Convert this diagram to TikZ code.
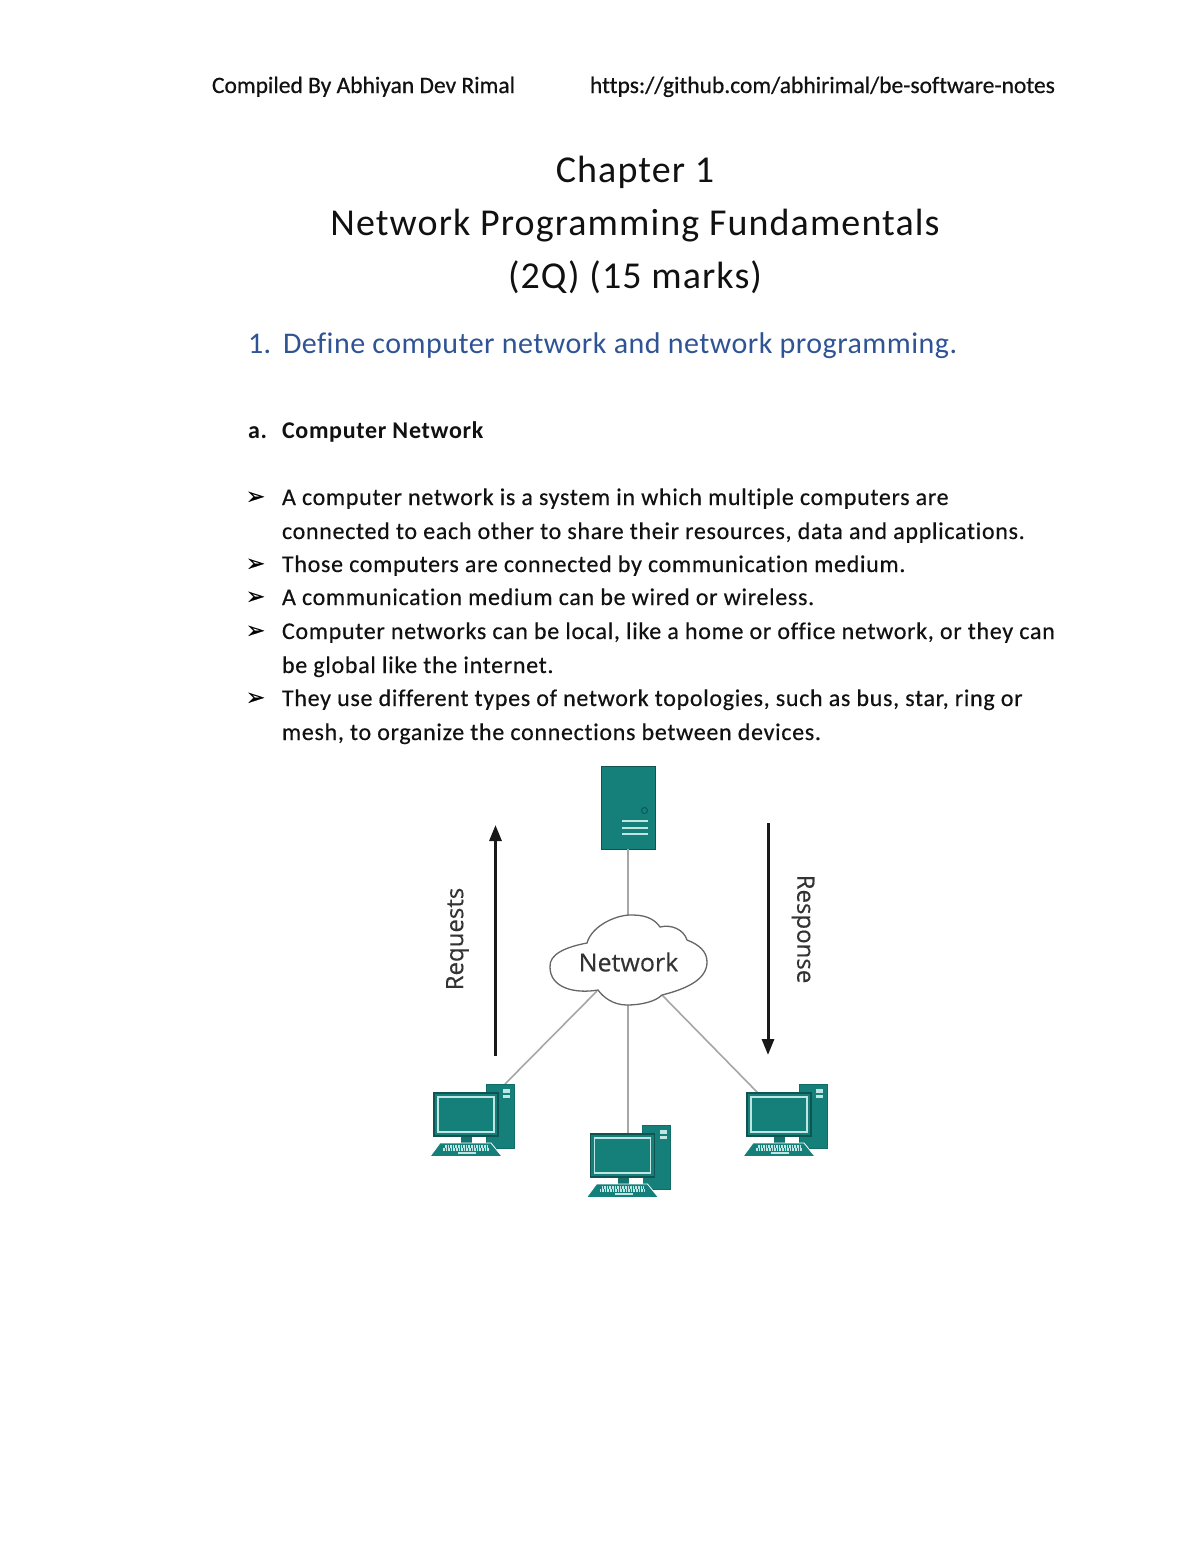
\documentclass[tikz,border=0pt]{standalone}
\usepackage{fontspec}
\usetikzlibrary{arrows.meta}
\setmainfont{Carlito}
\newfontfamily\bodyfont[LetterSpace=2.9,Ligatures=NoCommon,FakeBold=0.4]{Carlito}
\newfontfamily\pagehead[Ligatures=NoCommon,FakeBold=0.6]{Carlito}
\newfontfamily\boldfont[LetterSpace=2.9,Ligatures=NoCommon]{Carlito Bold}
\newfontfamily\titlefont[LetterSpace=2.9,Ligatures=NoCommon]{Carlito}
\newfontfamily\headfont[LetterSpace=1.6,Ligatures=NoCommon]{Carlito}
\newfontfamily\figfont[FakeBold=0.3]{Open Sans}
\newfontfamily\symfont[FakeBold=0.5]{DejaVu Sans}
\definecolor{teal1}{HTML}{15807A}
\definecolor{tealedge}{HTML}{0F5452}
\definecolor{keylight}{HTML}{BFE6E2}
\definecolor{wire}{HTML}{A6A6A6}
\definecolor{headblue}{HTML}{2F5496}
\definecolor{txt}{HTML}{111111}
\tikzset{
  x=1pt,y=-1pt,
  lefttext/.style={anchor=base west,inner sep=0pt,outer sep=0pt,text=txt,font=\bodyfont\fontsize{24}{28}\selectfont},
  pagetop/.style={anchor=base west,inner sep=0pt,outer sep=0pt,text=txt,font=\pagehead\fontsize{23.5}{28}\selectfont},
  centertext/.style={anchor=base,inner sep=0pt,outer sep=0pt,text=txt,font=\titlefont\fontsize{38}{46}\selectfont},
  headtext/.style={anchor=base west,inner sep=0pt,outer sep=0pt,text=headblue,font=\headfont\fontsize{30}{36}\selectfont},
  boldtext/.style={anchor=base west,inner sep=0pt,outer sep=0pt,text=txt,font=\boldfont\fontsize{24}{28}\selectfont},
  bulletmark/.style={anchor=base west,inner sep=0pt,outer sep=0pt,text=black,font=\symfont\fontsize{23}{26}\selectfont},
  figlabel/.style={inner sep=0pt,outer sep=0pt,text=black!80,font=\figfont\fontsize{24}{28}\selectfont},
  wireline/.style={draw=wire,line width=1.6pt},
  flowarrow/.style={draw=black!90,line width=3pt,-{Triangle[length=16pt,width=12pt]}},
  pc/.pic={
    \fill[teal1,draw=teal1!85!black,line width=.6pt] (52,-9) rectangle (80,55);
    \fill[white] (38,44) rectangle (52,50);
    \fill[keylight] (69,-4) rectangle (76,-.5);
    \fill[keylight] (69,1.5) rectangle (76,5);
    \fill[teal1!90!black] (27,43) rectangle (38,51);
    \draw[fill=teal1,draw=tealedge,line width=1.4pt] (0,0) rectangle (64,43);
    \draw[keylight,line width=1.3pt] (4,4) rectangle (60,39);
    \path[fill=teal1,draw=white,line width=.8pt] (6,50) -- (57,50) -- (68,63.5) -- (-4,63.5) -- cycle;
    \draw[keylight,line width=2.8pt,dash pattern=on 1.6pt off 1pt] (11,53.5) -- (53,53.5);
    \draw[keylight,line width=2.8pt,dash pattern=on 1.6pt off 1pt] (9,56.8) -- (55,56.8);
    \draw[keylight,line width=2.2pt] (24,60.2) -- (42,60.2);
  }
}
\begin{document}
\begin{tikzpicture}
\useasboundingbox (0,0) rectangle (1200,1553);
\fill[white] (0,0) rectangle (1200,1553);
% header
\node[pagetop] (hl) at (212,93) {Compiled By Abhiyan Dev Rimal};
\node[pagetop] (hr) at (590,93) {https://github.com/abhirimal/be-software-notes};
% titles
\node[centertext] (t1) at (635,182) {Chapter 1};
\node[centertext] (t2) at (635,235) {Network Programming Fundamentals};
\node[centertext] (t3) at (635,288) {(2Q) (15 marks)};
\node[headtext] (qn) at (248,353) {1.};
\node[headtext] (qt) at (283,353) {Define computer network and network programming.};
\node[boldtext] (an) at (248,438) {a.};
\node[boldtext] (at) at (282,438) {Computer Network};
% bullets
\node[bulletmark] (b1) at (246,504) {➢};
\node[bulletmark] (b2) at (246,571) {➢};
\node[bulletmark] (b3) at (246,604) {➢};
\node[bulletmark] (b4) at (246,638) {➢};
\node[bulletmark] (b5) at (246,705) {➢};
\node[lefttext] (l1) at (282,505) {A computer network is a system in which multiple computers are};
\node[lefttext] (l2) at (282,539) {connected to each other to share their resources, data and applications.};
\node[lefttext] (l3) at (282,572) {Those computers are connected by communication medium.};
\node[lefttext] (l4) at (282,605) {A communication medium can be wired or wireless.};
\node[lefttext] (l5) at (282,639) {Computer networks can be local, like a home or office network, or they can};
\node[lefttext] (l6) at (282,673) {be global like the internet.};
\node[lefttext] (l7) at (282,706) {They use different types of network topologies, such as bus, star, ring or};
\node[lefttext] (l8) at (282,740) {mesh, to organize the connections between devices.};
% anchors for the cloud ends
\coordinate (cloudtop) at (628,916);
\coordinate (cloudsw) at (597,991);
\coordinate (cloudbot) at (628,1005);
\coordinate (cloudse) at (662,995);
\coordinate (pcaport) at (505,1084);
\coordinate (pcbport) at (628,1134);
\coordinate (pccport) at (758,1093);
% connectors
\node[fill=teal1,draw=tealedge,line width=.9pt,minimum width=54pt,minimum height=83pt,inner sep=0pt] (server) at (628,807.5) {};
\draw[wireline] (server.south) -- (cloudtop);
\draw[wireline] (cloudsw) -- (pcaport);
\draw[wireline] (cloudbot) -- (pcbport);
\draw[wireline] (cloudse) -- (pccport);
% server details
\draw[tealedge,line width=.9pt] (644.5,810.5) circle (3);
\foreach \yy in {821,828,834} \draw[keylight,line width=2pt] (622,\yy) -- (648,\yy);
% cloud
\path[fill=white,draw=black!60,line width=1.3pt]
 (550,967) .. controls (549,954) and (566,947) .. (587,943)
 .. controls (592,925) and (618,914) .. (633,915)
 .. controls (648,915) and (656,921) .. (660,927)
 .. controls (672,924) and (684,930) .. (687,940)
 .. controls (700,945) and (707,952) .. (707,962)
 .. controls (707,978) and (690,988) .. (662,995)
 .. controls (655,1002) and (640,1005) .. (627,1005)
 .. controls (613,1005) and (603,997) .. (598,990)
 .. controls (575,994) and (550,988) .. (550,967) -- cycle;
\node[figlabel,font=\figfont\fontsize{25}{30}\selectfont] (netlabel) at (628.5,962) {Network};
% computers
\pic at (434,1093) {pc};
\pic at (590.5,1134) {pc};
\pic at (747,1093) {pc};
% arrows
\coordinate (reqstart) at (495.5,1056);
\coordinate (reqend) at (495.5,825);
\coordinate (resstart) at (768,823);
\coordinate (resend) at (768,1055);
\draw[flowarrow] (reqstart) -- (reqend);
\draw[flowarrow] (resstart) -- (resend);
\node[figlabel,rotate=90] (reqlabel) at (457.5,939) {Requests};
\node[figlabel,rotate=270] (reslabel) at (803,929) {Response};
\end{tikzpicture}
\end{document}
